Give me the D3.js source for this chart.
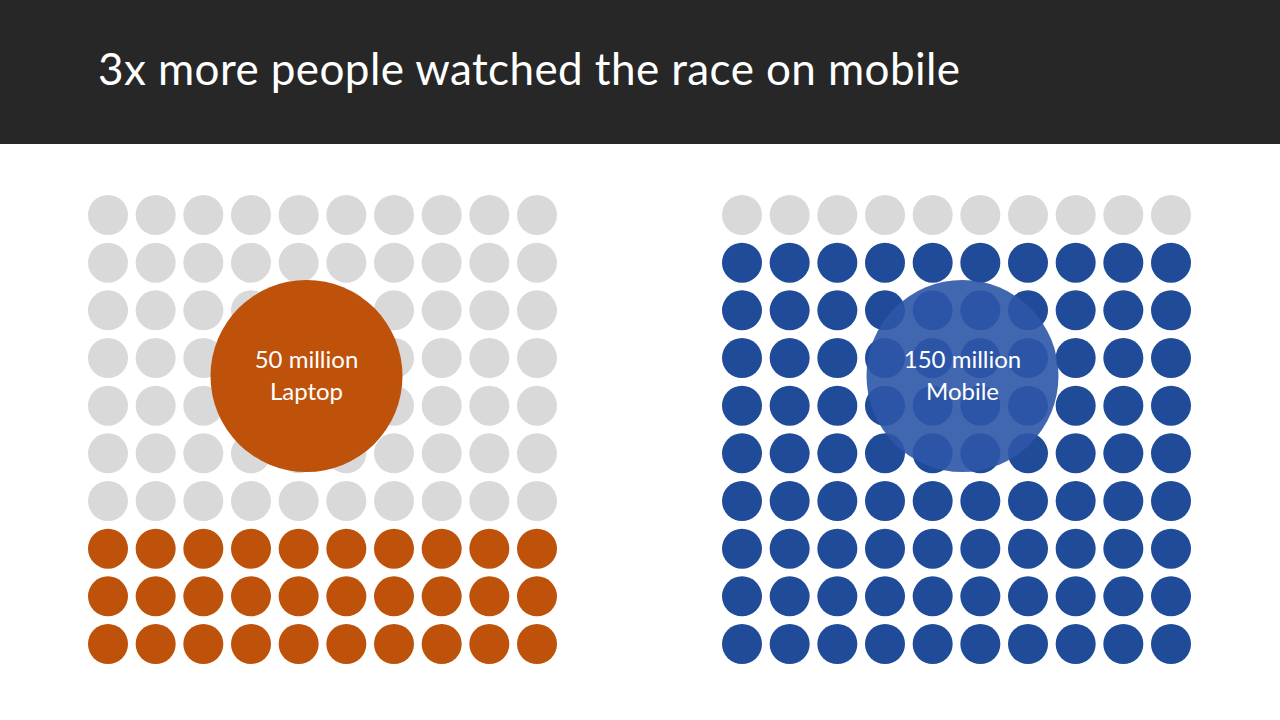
<!DOCTYPE html>
<html><head><meta charset="utf-8">
<script src="https://cdn.jsdelivr.net/npm/d3@7"></script>
<style>body{margin:0;background:#fff}svg{display:block}</style>
</head><body>
<script>
var title = "3x more people watched the race on mobile";
var devices = ["Laptop", "Mobile"];
var labels = ["50 million", "150 million"];
var filled = [30, 90];          // filled dots out of 100
var colors = ["#BE520A", "#1F4B99"];
var bubbleColors = ["#BE520A", "#2D57A8"];
var bubbleOpacity = [1, 0.9];
var panelX = [88, 722];
var bubbleShift = [-16, 6];

var W = 1280, H = 720;
var svg = d3.select("body").append("svg").attr("width", W).attr("height", H);

svg.append("rect").attr("width", W).attr("height", 144).attr("fill", "#272727");
svg.append("text").attr("x", 98).attr("y", 85)
  .attr("fill", "#fff").attr("font-family", "Lato, sans-serif")
  .attr("font-size", 44).attr("textLength", 862).text(title);

var idx = d3.range(10);
devices.forEach(function(dev, k) {
  var x = d3.scalePoint().domain(idx).range([panelX[k] + 20, panelX[k] + 449]);
  var y = d3.scalePoint().domain(idx).range([215, 644]);
  var cells = d3.range(100).map(function(i) { return { r: Math.floor(i / 10), c: i % 10 }; });
  var g = svg.append("g");
  g.selectAll("circle").data(cells).enter().append("circle")
    .attr("cx", function(d) { return x(d.c); })
    .attr("cy", function(d) { return y(d.r); })
    .attr("r", 20)
    .attr("fill", function(d) { return (10 - d.r) * 10 <= filled[k] ? colors[k] : "#D9D9D9"; });
  var cx = (x(0) + x(9)) / 2 + bubbleShift[k], cy = 376;
  g.append("circle").attr("cx", cx).attr("cy", cy).attr("r", 96)
    .attr("fill", bubbleColors[k]).attr("opacity", bubbleOpacity[k]);
  var t = g.append("text").attr("text-anchor", "middle").attr("fill", "#fff")
    .attr("font-family", "Lato, sans-serif").attr("font-size", 24);
  t.append("tspan").attr("x", cx).attr("y", cy - 8).text(labels[k]);
  t.append("tspan").attr("x", cx).attr("y", cy + 24).text(dev);
});
</script>
</body></html>
